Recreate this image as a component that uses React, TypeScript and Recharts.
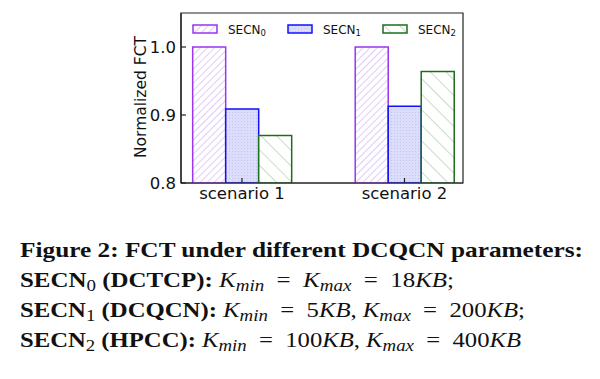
import React from "react";
import { BarChart, Bar, XAxis, YAxis, Legend, ReferenceArea } from "recharts";

const scenarios = ["scenario 1", "scenario 2"];
const positions = [0, 1];
const secn0 = [1.0, 1.0];
const secn1 = [0.909, 0.913];
const secn2 = [0.870, 0.964];
const seriesNames = ["SECN0", "SECN1", "SECN2"];
const yTicks = [0.8, 0.9, 1.0];

const data = positions.map((p, i) => ({
  x: p,
  name: scenarios[i],
  s0: secn0[i],
  s1: secn1[i],
  s2: secn2[i],
}));

const SERIES = [
  { key: "s0", stroke: "#9b35f0", fill: "url(#hatchPurple)" },
  { key: "s1", stroke: "#1010ff", fill: "url(#dotBlue)" },
  { key: "s2", stroke: "#1c6e1c", fill: "url(#hatchGreen)" },
];

const AXIS = "#222";
const SANS = "'DejaVu Sans', sans-serif";
const SERIF = "'Liberation Serif', 'Times New Roman', serif";

function YTick({ x, y, payload }: any) {
  return (
    <g>
      <line x1={x + 5} y1={y} x2={x + 10} y2={y} stroke={AXIS} strokeWidth={1.2} />
      <text x={x} y={y} dy={6} textAnchor="end" fontFamily={SANS} fontSize={16.5} fill="#111">
        {Number(payload.value).toFixed(1)}
      </text>
    </g>
  );
}

function XTick({ x, y, payload }: any) {
  const idx = positions.indexOf(payload.value);
  return (
    <g>
      <line x1={x} y1={y - 3} x2={x} y2={y - 8} stroke={AXIS} strokeWidth={1.2} />
      <text x={x} y={y} dy={12.5} textAnchor="middle" fontFamily={SANS} fontSize={16.5} fill="#111">
        {scenarios[idx]}
      </text>
    </g>
  );
}

function YLabel({ viewBox }: any) {
  const cx = 141;
  const cy = viewBox.y + viewBox.height / 2 - 1;
  return (
    <text x={cx} y={cy} transform={`rotate(-90, ${cx}, ${cy})`} textAnchor="middle"
      dominantBaseline="central" fontFamily={SANS} fontSize={15.5} fill="#111">
      Normalized FCT
    </text>
  );
}

function LegendBox() {
  return (
    <svg width={600} height={40} style={{ display: "block" }}>
      {SERIES.map((s, i) => {
        const x0 = 193 + i * 95;
        const name = seriesNames[i];
        return (
          <g key={s.key}>
            <rect x={x0} y={25} width={24} height={8} fill={s.fill} stroke={s.stroke} strokeWidth={1.5} />
            <text x={x0 + 35} y={34} fontFamily={SANS} fontSize={12} fill="#111">
              {name.slice(0, 4)}
              <tspan fontSize={8.5} dy={2}>{name.slice(4)}</tspan>
            </text>
          </g>
        );
      })}
    </svg>
  );
}

type Seg = { t: string; b?: boolean; i?: boolean; sub?: boolean };

const captionLines: { y: number; len: number; segs: Seg[] }[] = [
  { y: 257, len: 563, segs: [{ t: "Figure 2: FCT under different DCQCN parameters:", b: true }] },
  {
    y: 287, len: 434, segs: [
      { t: "SECN", b: true }, { t: "0", sub: true }, { t: " (DCTCP):", b: true },
      { t: " K", i: true }, { t: "min", i: true, sub: true }, { t: "  =  " },
      { t: "K", i: true }, { t: "max", i: true, sub: true }, { t: "  =  18" },
      { t: "KB", i: true }, { t: ";" },
    ],
  },
  {
    y: 317, len: 505, segs: [
      { t: "SECN", b: true }, { t: "1", sub: true }, { t: " (DCQCN):", b: true },
      { t: " K", i: true }, { t: "min", i: true, sub: true }, { t: "  =  5" },
      { t: "KB", i: true }, { t: ", " },
      { t: "K", i: true }, { t: "max", i: true, sub: true }, { t: "  =  200" },
      { t: "KB", i: true }, { t: ";" },
    ],
  },
  {
    y: 347, len: 501, segs: [
      { t: "SECN", b: true }, { t: "2", sub: true }, { t: " (HPCC):", b: true },
      { t: " K", i: true }, { t: "min", i: true, sub: true }, { t: "  =  100" },
      { t: "KB", i: true }, { t: ", " },
      { t: "K", i: true }, { t: "max", i: true, sub: true }, { t: "  =  400" },
      { t: "KB", i: true },
    ],
  },
];

function Caption() {
  return (
    <svg width={600} height={379} style={{ position: "absolute", left: 0, top: 0 }}>
      {captionLines.map((line, li) => {
        let inSub = false;
        return (
          <text key={li} x={20} y={line.y} fontFamily={SERIF} fontSize={21} fill="#111"
            textLength={line.len} lengthAdjust="spacingAndGlyphs" style={{ whiteSpace: "pre" }}>
            {line.segs.map((s, si) => {
              let dy = 0;
              if (s.sub && !inSub) { dy = 4; inSub = true; }
              else if (!s.sub && inSub) { dy = -4; inSub = false; }
              return (
                <tspan key={si} dy={dy} fontWeight={s.b ? "bold" : "normal"}
                  fontStyle={s.i ? "italic" : "normal"} fontSize={s.sub ? 16 : 21}>
                  {s.t}
                </tspan>
              );
            })}
          </text>
        );
      })}
    </svg>
  );
}

export default function App() {
  return (
    <div style={{ position: "absolute", left: 0, top: 0, width: 600, height: 379, background: "#fff" }}>
      <svg width={0} height={0} style={{ position: "absolute" }}>
        <defs>
          <pattern id="hatchPurple" width={5} height={5} patternUnits="userSpaceOnUse"
            patternTransform="rotate(45)">
            <rect width={5} height={5} fill="#ffffff" />
            <line x1={0} y1={0} x2={0} y2={5} stroke="#cfa8f5" strokeWidth={1.2} />
          </pattern>
          <pattern id="dotBlue" width={3} height={3} patternUnits="userSpaceOnUse">
            <rect width={3} height={3} fill="#dcdcfb" />
            <rect x={1} y={1} width={1} height={1} fill="#c4c4f4" />
          </pattern>
          <pattern id="hatchGreen" width={11} height={11} patternUnits="userSpaceOnUse"
            patternTransform="rotate(-45)">
            <rect width={11} height={11} fill="#ffffff" />
            <line x1={0} y1={0} x2={0} y2={11} stroke="#9cc89c" strokeWidth={1.2} />
          </pattern>
        </defs>
      </svg>
      <BarChart width={600} height={379} data={data} barSize={33} barGap={0}
        margin={{ top: 13, right: 137, left: 0, bottom: 166 }}>
        <XAxis dataKey="x" type="number" domain={[-0.375, 1.36]} ticks={positions}
          allowDataOverflow height={30} tickSize={0} tickMargin={3} tickLine={false}
          axisLine={{ stroke: AXIS, strokeWidth: 1.2 }} tick={<XTick />} />
        <YAxis type="number" domain={[0.8, 1.05]} ticks={yTicks} allowDataOverflow width={181}
          tickSize={0} tickMargin={5} tickLine={false}
          axisLine={{ stroke: AXIS, strokeWidth: 1.2 }} tick={<YTick />}
          label={<YLabel />} />
        <ReferenceArea x1={-0.375} x2={1.36} y1={0.8} y2={1.05} fill="none"
          stroke={AXIS} strokeWidth={1.2} ifOverflow="visible" />
        {SERIES.map((s, i) => (
          <Bar key={s.key} dataKey={s.key} name={seriesNames[i]} fill={s.fill}
            stroke={s.stroke} strokeWidth={1.5} isAnimationActive={false} />
        ))}
        <Legend layout="horizontal" verticalAlign="middle" align="center"
          wrapperStyle={{ position: "absolute", left: 0, top: 0, width: 600, height: 40 }}
          content={() => <LegendBox />} />
      </BarChart>
      <Caption />
    </div>
  );
}
